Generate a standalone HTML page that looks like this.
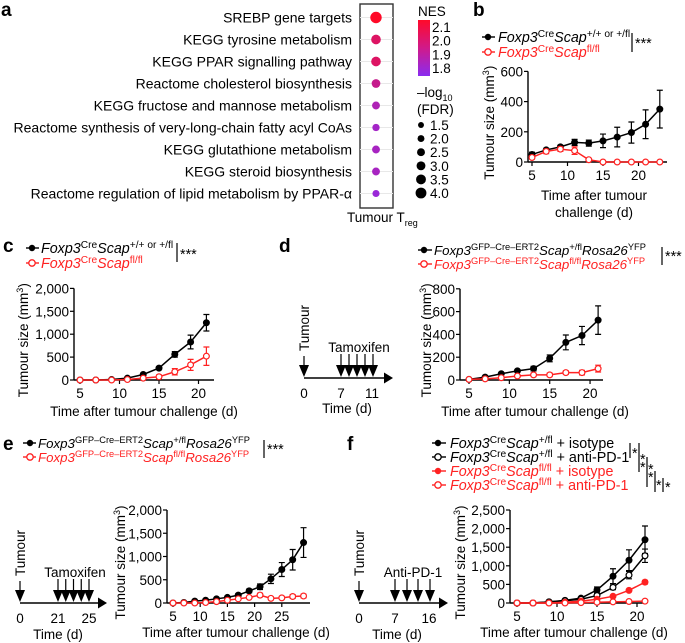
<!DOCTYPE html>
<html><head><meta charset="utf-8"><style>
html,body{margin:0;padding:0;background:#fff;}
svg{display:block;font-family:"Liberation Sans",Arial,sans-serif;}
</style></head><body>
<svg id="fig" width="685" height="643" viewBox="0 0 685 643">
<defs><linearGradient id="nesGrad" x1="0" y1="0" x2="0" y2="1"><stop offset="0" stop-color="#ff0a2a"/><stop offset="0.5" stop-color="#d01a8a"/><stop offset="1" stop-color="#8a2cf0"/></linearGradient></defs>
<g font-weight="bold" font-size="19">
<text x="1" y="16">a</text>
<text x="473" y="16">b</text>
<text x="3" y="252">c</text>
<text x="279" y="252">d</text>
<text x="3" y="450">e</text>
<text x="347" y="450">f</text>
</g>
<g id="panelA"></g>
<g id="charts"></g>
<g font-size="14.3">
 <g>
  <line x1="482" y1="37" x2="495" y2="37" stroke="#000" stroke-width="1.4"/><circle cx="488" cy="37" r="3.2" fill="#000"/>
  <text x="498" y="42" font-style="italic">Foxp3<tspan dy="-5" font-size="10.2" font-style="normal">Cre</tspan><tspan dy="5">Scap</tspan><tspan dy="-5" font-size="10.2" font-style="normal">+/+ or +/fl</tspan></text>
  <line x1="482" y1="52" x2="495" y2="52" stroke="#f22" stroke-width="1.4"/><circle cx="488" cy="52" r="3.2" fill="#fff" stroke="#f22" stroke-width="1.3"/>
  <text x="498" y="57" font-style="italic" fill="#f22">Foxp3<tspan dy="-5" font-size="10.2" font-style="normal">Cre</tspan><tspan dy="5">Scap</tspan><tspan dy="-5" font-size="10.2" font-style="normal">fl/fl</tspan></text>
  <line x1="632" y1="33" x2="632" y2="52" stroke="#000" stroke-width="1.2"/><text x="635" y="48">***</text>
 </g>
 <g>
  <line x1="26" y1="248" x2="39" y2="248" stroke="#000" stroke-width="1.4"/><circle cx="32" cy="248" r="3.2" fill="#000"/>
  <text x="41" y="253" font-style="italic">Foxp3<tspan dy="-5" font-size="10.2" font-style="normal">Cre</tspan><tspan dy="5">Scap</tspan><tspan dy="-5" font-size="10.2" font-style="normal">+/+ or +/fl</tspan></text>
  <line x1="26" y1="263" x2="39" y2="263" stroke="#f22" stroke-width="1.4"/><circle cx="32" cy="263" r="3.2" fill="#fff" stroke="#f22" stroke-width="1.3"/>
  <text x="41" y="268" font-style="italic" fill="#f22">Foxp3<tspan dy="-5" font-size="10.2" font-style="normal">Cre</tspan><tspan dy="5">Scap</tspan><tspan dy="-5" font-size="10.2" font-style="normal">fl/fl</tspan></text>
  <line x1="177" y1="243" x2="177" y2="262" stroke="#000" stroke-width="1.2"/><text x="180" y="259">***</text>
 </g>
 <g font-size="13.3">
  <line x1="418" y1="250" x2="432" y2="250" stroke="#000" stroke-width="1.4"/><circle cx="424" cy="250" r="3.2" fill="#000"/>
  <text x="434" y="255" font-style="italic">Foxp3<tspan dy="-5" font-size="9.3" font-style="normal">GFP–Cre–ERT2</tspan><tspan dy="5">Scap</tspan><tspan dy="-5" font-size="9.3" font-style="normal">+/fl</tspan><tspan dy="5">Rosa26</tspan><tspan dy="-5" font-size="9.3" font-style="normal">YFP</tspan></text>
  <line x1="418" y1="264" x2="432" y2="264" stroke="#f22" stroke-width="1.4"/><circle cx="424" cy="264" r="3.2" fill="#fff" stroke="#f22" stroke-width="1.3"/>
  <text x="434" y="269" font-style="italic" fill="#f22">Foxp3<tspan dy="-5" font-size="9.3" font-style="normal">GFP–Cre–ERT2</tspan><tspan dy="5">Scap</tspan><tspan dy="-5" font-size="9.3" font-style="normal">fl/fl</tspan><tspan dy="5">Rosa26</tspan><tspan dy="-5" font-size="9.3" font-style="normal">YFP</tspan></text>
  <line x1="662" y1="247" x2="662" y2="265" stroke="#000" stroke-width="1.2"/><text x="665" y="261" font-size="14.3">***</text>
 </g>
 <g font-size="13.3">
  <line x1="23" y1="443" x2="36" y2="443" stroke="#000" stroke-width="1.4"/><circle cx="30" cy="443" r="3.2" fill="#000"/>
  <text x="38" y="448" font-style="italic">Foxp3<tspan dy="-5" font-size="9.3" font-style="normal">GFP–Cre–ERT2</tspan><tspan dy="5">Scap</tspan><tspan dy="-5" font-size="9.3" font-style="normal">+/fl</tspan><tspan dy="5">Rosa26</tspan><tspan dy="-5" font-size="9.3" font-style="normal">YFP</tspan></text>
  <line x1="23" y1="457" x2="36" y2="457" stroke="#f22" stroke-width="1.4"/><circle cx="30" cy="457" r="3.2" fill="#fff" stroke="#f22" stroke-width="1.3"/>
  <text x="38" y="462" font-style="italic" fill="#f22">Foxp3<tspan dy="-5" font-size="9.3" font-style="normal">GFP–Cre–ERT2</tspan><tspan dy="5">Scap</tspan><tspan dy="-5" font-size="9.3" font-style="normal">fl/fl</tspan><tspan dy="5">Rosa26</tspan><tspan dy="-5" font-size="9.3" font-style="normal">YFP</tspan></text>
  <line x1="264" y1="440" x2="264" y2="458" stroke="#000" stroke-width="1.2"/><text x="267" y="454" font-size="14.3">***</text>
 </g>
 <g>
  <line x1="432" y1="443" x2="446" y2="443" stroke="#000" stroke-width="1.4"/><circle cx="438" cy="443" r="3.2" fill="#000"/>
  <text x="450" y="448" font-style="italic">Foxp3<tspan dy="-5" font-size="10.2" font-style="normal">Cre</tspan><tspan dy="5">Scap</tspan><tspan dy="-5" font-size="10.2" font-style="normal">+/fl</tspan><tspan dy="5" font-style="normal"> + isotype</tspan></text>
  <line x1="432" y1="457" x2="446" y2="457" stroke="#000" stroke-width="1.4"/><circle cx="438" cy="457" r="3.2" fill="#fff" stroke="#000" stroke-width="1.3"/>
  <text x="450" y="462" font-style="italic">Foxp3<tspan dy="-5" font-size="10.2" font-style="normal">Cre</tspan><tspan dy="5">Scap</tspan><tspan dy="-5" font-size="10.2" font-style="normal">+/fl</tspan><tspan dy="5" font-style="normal"> + anti-PD-1</tspan></text>
  <line x1="432" y1="471" x2="446" y2="471" stroke="#f22" stroke-width="1.4"/><circle cx="438" cy="471" r="3.2" fill="#f22"/>
  <text x="450" y="476" font-style="italic" fill="#f22">Foxp3<tspan dy="-5" font-size="10.2" font-style="normal">Cre</tspan><tspan dy="5">Scap</tspan><tspan dy="-5" font-size="10.2" font-style="normal">fl/fl</tspan><tspan dy="5" font-style="normal"> + isotype</tspan></text>
  <line x1="432" y1="485" x2="446" y2="485" stroke="#f22" stroke-width="1.4"/><circle cx="438" cy="485" r="3.2" fill="#fff" stroke="#f22" stroke-width="1.3"/>
  <text x="450" y="490" font-style="italic" fill="#f22">Foxp3<tspan dy="-5" font-size="10.2" font-style="normal">Cre</tspan><tspan dy="5">Scap</tspan><tspan dy="-5" font-size="10.2" font-style="normal">fl/fl</tspan><tspan dy="5" font-style="normal"> + anti-PD-1</tspan></text>
  <g stroke="#000" stroke-width="1.2"><line x1="630" y1="443" x2="630" y2="458"/><line x1="639" y1="443" x2="639" y2="472"/><line x1="647" y1="457" x2="647" y2="487"/><line x1="655" y1="471" x2="655" y2="492"/><line x1="663" y1="478" x2="663" y2="492"/></g>
  <text x="632" y="458">*</text><text x="640" y="464">*</text><text x="640" y="472">*</text><text x="648" y="474">*</text><text x="648" y="482">*</text><text x="656" y="490">*</text><text x="665" y="492">*</text>
 </g>
</g>
<g id="timelines"></g>
</svg>
<script>
// ---------- Panel a data ----------
const pathways = ["SREBP gene targets","KEGG tyrosine metabolism","KEGG PPAR signalling pathway","Reactome cholesterol biosynthesis","KEGG fructose and mannose metabolism","Reactome synthesis of very-long-chain fatty acyl CoAs","KEGG glutathione metabolism","KEGG steroid biosynthesis","Reactome regulation of lipid metabolism by PPAR-α"];
const nesValues = [2.12, 2.02, 2.02, 1.95, 1.88, 1.85, 1.86, 1.86, 1.82];
const fdrValues = [4.3, 3.4, 3.4, 2.9, 2.5, 2.2, 2.5, 2.5, 2.1];
const nesTicks = [2.1, 2.0, 1.9, 1.8];
const fdrTicks = [1.5, 2.0, 2.5, 3.0, 3.5, 4.0];

// ---------- Panel b data ----------
const bDays = [5,7,9,11,13,15,17,19,21,23];
const bCtrl = [50,80,100,130,125,140,165,195,250,350];
const bCtrlErr = [15,10,10,20,20,45,65,70,95,125];
const bKO = [30,70,85,75,15,0,0,0,0,0];
const bKOErr = [10,15,15,25,5,0,0,0,0,0];
const bYTicks = [0,200,400,600];
const bXTicks = [5,10,15,20];

// ---------- Panel c data ----------
const cDays = [5,7,9,11,13,15,17,19,21];
const cCtrl = [0,0,10,40,120,260,560,830,1250];
const cCtrlErr = [0,0,10,10,20,30,60,150,180];
const cKO = [0,0,0,10,40,70,180,330,520];
const cKOErr = [0,0,0,10,15,40,70,120,200];
const cYTicks = [0,500,1000,1500,2000];
const cXTicks = [5,10,15,20];

// ---------- Panel d data ----------
const dDays = [5,7,9,11,13,15,17,19,21];
const dCtrl = [5,25,55,80,100,190,330,390,525];
const dCtrlErr = [5,5,5,10,20,30,65,80,125];
const dKO = [5,10,20,35,45,45,65,65,100];
const dKOErr = [5,5,5,10,15,15,15,20,30];
const dYTicks = [0,200,400,600,800];
const dXTicks = [5,10,15,20];

// ---------- Panel e data ----------
const eDays = [5,7,9,11,13,15,17,19,21,23,25,27,29];
const eCtrl = [0,10,40,60,90,120,170,260,350,520,720,930,1300];
const eCtrlErr = [0,5,10,15,20,20,30,40,60,100,150,220,320];
const eKO = [0,0,0,10,30,60,90,120,170,100,110,140,150];
const eKOErr = [0,0,0,5,10,15,20,20,40,30,30,40,40];
const eYTicks = [0,500,1000,1500,2000];
const eXTicks = [5,10,15,20,25];

// ---------- Panel f data ----------
const fDays = [5,7,9,11,13,15,17,19,21];
const fCtrlIso = [0,0,30,70,130,350,720,1150,1700];
const fCtrlIsoErr = [0,0,10,20,30,80,200,280,370];
const fCtrlPD1 = [0,0,30,60,100,200,420,750,1270];
const fCtrlPD1Err = [0,0,10,10,20,40,60,100,180];
const fKOIso = [0,0,0,20,50,100,180,340,560];
const fKOIsoErr = [0,0,0,5,10,15,20,30,50];
const fKOPD1 = [0,0,0,0,10,20,30,40,50];
const fKOPD1Err = [0,0,0,0,5,5,10,10,10];
const fYTicks = [0,500,1000,1500,2000,2500];
const fXTicks = [5,10,15,20];

const NS = "http://www.w3.org/2000/svg";
function mk(tag, attrs, parent, txt){
  const e = document.createElementNS(NS, tag);
  for (const k in attrs) e.setAttribute(k, attrs[k]);
  if (txt !== undefined) e.textContent = txt;
  parent.appendChild(e);
  return e;
}
function fmt(v){ return v.toLocaleString("en-US"); }

// ---------- Panel a ----------
(function(){
  const g = document.getElementById("panelA");
  const rowY = i => 17.5 + i * 22;
  const nesY = v => 27 + (2.1 - v) * 137;
  const rad = v => 1.5 + v * 0.98;
  const box = mk("rect", {x:360, y:4, width:33, height:204, fill:"none", stroke:"#333", "stroke-width":1.4}, g);
  
  
  function col(v){
    const t = Math.max(0, Math.min(1, (v - 1.78) / (2.12 - 1.78)));
    const r = Math.round(140 + 115 * t), gg = Math.round(44 - 34 * t), b = Math.round(240 - 200 * t);
    return "rgb(" + r + "," + gg + "," + b + ")";
  }
  pathways.forEach((p, i) => {
    const y = rowY(i);
    const gl = mk("line", {x1:360, x2:393, y1:y, y2:y, stroke:"#e8e8e8", "stroke-width":1}, g);
    
    
    const t = mk("text", {x:352, y:y + 5, "text-anchor":"end", "font-size":14}, g, p);
    
    
    const c = mk("circle", {cx:376, cy:y, r:rad(fdrValues[i]), fill:col(nesValues[i])}, g);
    
    
  });
  const xl = mk("text", {x:347, y:222, "font-size":13.5}, g);
  
  
  xl.innerHTML = 'Tumour T<tspan dy="4" font-size="9">reg</tspan>';
  const nl = mk("text", {x:418, y:16, "font-size":13.5}, g, "NES");
  
  
  const bar = mk("rect", {x:418, y:20, width:12, height:56, fill:"url(#nesGrad)"}, g);
  
  
  nesTicks.forEach(v => {
    const t = mk("text", {x:432, y:nesY(v) + 5, "font-size":13.5}, g, v.toFixed(1));
    
    
  });
  const fl = mk("text", {x:417, y:97, "font-size":13.5}, g);
  
  
  fl.innerHTML = '–log<tspan dy="4" font-size="9">10</tspan>';
  const fl2 = mk("text", {x:417, y:114, "font-size":13.5}, g, "(FDR)");
  
  
  fdrTicks.forEach((v, i) => {
    const y = 125 + i * 13.6;
    const c = mk("circle", {cx:421, cy:y, r:rad(v), fill:"#000"}, g);
    
    
    const t = mk("text", {x:430, y:y + 5, "font-size":13.5}, g, v.toFixed(1));
    
    
  });
})();

// ---------- line chart helper ----------
function lineChart(cfg){
  const g = mk("g", {}, document.getElementById("charts"));
  
  
  const X = d => cfg.x5 + (d - 5) * cfg.pxDay;
  const Y = v => cfg.yBase - v * cfg.pxUnit;
  const top = Y(cfg.yTicks[cfg.yTicks.length - 1]);
  const ya = mk("line", {x1:cfg.axX, x2:cfg.axX, y1:cfg.yBase, y2:top, stroke:"#000", "stroke-width":1.4}, g);
  
  
  const xa = mk("line", {x1:cfg.axX, x2:cfg.xEnd, y1:cfg.yBase, y2:cfg.yBase, stroke:"#000", "stroke-width":1.4}, g);
  
  
  cfg.yTicks.forEach(v => {
    const tk = mk("line", {x1:cfg.axX - 4, x2:cfg.axX, y1:Y(v), y2:Y(v), stroke:"#000", "stroke-width":1.2}, g);
    
    
    const t = mk("text", {x:cfg.axX - 5, y:Y(v) + 5, "text-anchor":"end", "font-size":13.5}, g, fmt(v));
    
    
  });
  cfg.xTicks.forEach(v => {
    const tk = mk("line", {x1:X(v), x2:X(v), y1:cfg.yBase, y2:cfg.yBase + 4, stroke:"#000", "stroke-width":1.2}, g);
    
    
    const t = mk("text", {x:X(v), y:cfg.yBase + 18, "text-anchor":"middle", "font-size":13.5}, g, String(v));
    
    
  });
  const cy = (cfg.yBase + top) / 2 + 6;
  const yt = mk("text", {x:cfg.yTitleX, y:cy, "text-anchor":"middle", "font-size":13.5, transform:"rotate(-90 " + cfg.yTitleX + " " + cy + ")"}, g);
  
  
  yt.innerHTML = 'Tumour size (mm<tspan dy="-5" font-size="9">3</tspan><tspan dy="5">)</tspan>';
  cfg.xTitle.forEach((line, i) => {
    const t = mk("text", {x:cfg.xTitleX, y:cfg.xTitleY + i * 17, "text-anchor":"middle", "font-size":13.5}, g, line);
    
    
  });
  cfg.series.forEach(s => {
    const sg = mk("g", {}, g);
    
    
    const pts = s.days.map((d, i) => X(d) + "," + Y(s.vals[i])).join(" ");
    const pl = mk("polyline", {points:pts, fill:"none", stroke:s.color, "stroke-width":1.5}, sg);
    
    
    s.days.forEach((d, i) => {
      const x = X(d), v = s.vals[i], e = s.err[i];
      if (e > 0) {
        const el = mk("path", {d:"M" + x + "," + Y(v - e) + "V" + Y(v + e) + "M" + (x - 3) + "," + Y(v + e) + "H" + (x + 3) + "M" + (x - 3) + "," + Y(v - e) + "H" + (x + 3), stroke:s.color, "stroke-width":1.2, fill:"none"}, sg);
        
        
      }
      const c = mk("circle", {cx:x, cy:Y(v), r:2.9, fill:s.open ? "#fff" : s.color, stroke:s.color, "stroke-width":1.2}, sg);
      
      
    });
  });
}
const BLK = "#000", RED = "#f22";
lineChart({name:"panel-b-chart", axX:528, x5:532, pxDay:7.1, yBase:162, pxUnit:0.151, xEnd:667, yTicks:bYTicks, xTicks:bXTicks, yTitleX:494, xTitle:["Time after tumour","challenge (d)"], xTitleX:594, xTitleY:200,
  series:[{name:"series-b-control", days:bDays, vals:bCtrl, err:bCtrlErr, color:BLK},{name:"series-b-knockout", days:bDays, vals:bKO, err:bKOErr, color:RED, open:true}]});
lineChart({name:"panel-c-chart", axX:74, x5:80, pxDay:7.9, yBase:380, pxUnit:0.0458, xEnd:214, yTicks:cYTicks, xTicks:cXTicks, yTitleX:28, xTitle:["Time after tumour challenge (d)"], xTitleX:144, xTitleY:416,
  series:[{name:"series-c-control", days:cDays, vals:cCtrl, err:cCtrlErr, color:BLK},{name:"series-c-knockout", days:cDays, vals:cKO, err:cKOErr, color:RED, open:true}]});
lineChart({name:"panel-d-chart", axX:460, x5:469, pxDay:8.07, yBase:380, pxUnit:0.114, xEnd:603, yTicks:dYTicks, xTicks:dXTicks, yTitleX:431, xTitle:["Time after tumour challenge (d)"], xTitleX:535, xTitleY:416,
  series:[{name:"series-d-control", days:dDays, vals:dCtrl, err:dCtrlErr, color:BLK},{name:"series-d-knockout", days:dDays, vals:dKO, err:dKOErr, color:RED, open:true}]});
lineChart({name:"panel-e-chart", axX:167, x5:173, pxDay:5.44, yBase:603, pxUnit:0.0465, xEnd:310, yTicks:eYTicks, xTicks:eXTicks, yTitleX:125, xTitle:["Time after tumour challenge (d)"], xTitleX:236, xTitleY:637,
  series:[{name:"series-e-control", days:eDays, vals:eCtrl, err:eCtrlErr, color:BLK},{name:"series-e-knockout", days:eDays, vals:eKO, err:eKOErr, color:RED, open:true}]});
lineChart({name:"panel-f-chart", axX:510, x5:517, pxDay:8.0, yBase:603, pxUnit:0.0372, xEnd:646, yTicks:fYTicks, xTicks:fXTicks, yTitleX:465, xTitle:["Time after tumour challenge (d)"], xTitleX:574, xTitleY:637,
  series:[{name:"series-f-ctrl-isotype", days:fDays, vals:fCtrlIso, err:fCtrlIsoErr, color:BLK},
          {name:"series-f-ctrl-antipd1", days:fDays, vals:fCtrlPD1, err:fCtrlPD1Err, color:BLK, open:true},
          {name:"series-f-ko-isotype", days:fDays, vals:fKOIso, err:fKOIsoErr, color:RED},
          {name:"series-f-ko-antipd1", days:fDays, vals:fKOPD1, err:fKOPD1Err, color:RED, open:true}]});

// ---------- treatment timelines ----------
function timeline(t){
  const g = mk("g", {}, document.getElementById("timelines"));
  
  
  const ln = mk("line", {x1:t.x0, x2:t.xEnd - 6, y1:t.y, y2:t.y, stroke:"#000", "stroke-width":1.6}, g);
  
  
  const ah = mk("polygon", {points:(t.xEnd-9)+","+(t.y-5.5)+" "+t.xEnd+","+t.y+" "+(t.xEnd-9)+","+(t.y+5.5), fill:"#000"}, g);
  
  
  const arrow = (x, nm) => {
    const a = mk("path", {d:"M"+(x-5)+","+(t.y-13)+"L"+(x+5)+","+(t.y-13)+"L"+x+","+(t.y-1)+"Z", fill:"#000"}, g);
    
    
  };
  arrow(t.x0, 'tumour-arrow');
  const ts = mk("line", {x1:t.x0, x2:t.x0, y1:t.y-22, y2:t.y-12, stroke:"#000", "stroke-width":1.2}, g);
  
  
  const ty = t.y - 50;
  const tl = mk("text", {x:t.x0 + 5, y:ty, "text-anchor":"middle", "font-size":13.5, transform:"rotate(-90 "+(t.x0+5)+" "+ty+")"}, g, "Tumour");
  
  
  t.doses.forEach(x => {
    const s = mk("line", {x1:x, x2:x, y1:t.y-24, y2:t.y-10, stroke:"#000", "stroke-width":1.2}, g);
    
    
    arrow(x, 'dose-arrow');
  });
  const dl = mk("text", {x:t.labelX, y:t.y - 26, "text-anchor":"middle", "font-size":13.5}, g, t.label);
  
  
  t.ticks.forEach(k => {
    const tx = mk("text", {x:k[0], y:t.y + 20, "text-anchor":"middle", "font-size":13.5}, g, k[1]);
    
    
  });
  const tt = mk("text", {x:t.titleX, y:t.titleY, "text-anchor":"middle", "font-size":13.5}, g, "Time (d)");
  
  
}
timeline({name:"panel-d-timeline", x0:304, xEnd:393, y:378, doses:[341,349,357,365,373], label:"Tamoxifen", labelX:359, ticks:[[304,"0"],[341,"7"],[372,"11"]], titleX:347, titleY:413});
timeline({name:"panel-e-timeline", x0:20, xEnd:107, y:603, doses:[58,65.75,73.5,81.25,89], label:"Tamoxifen", labelX:75, ticks:[[20,"0"],[58,"21"],[89,"25"]], titleX:58, titleY:639});
timeline({name:"panel-f-timeline", x0:359, xEnd:448, y:603, doses:[395,407,418,430], label:"Anti-PD-1", labelX:413, ticks:[[359,"0"],[395,"7"],[429,"16"]], titleX:397, titleY:639});
</script>
</body></html>
